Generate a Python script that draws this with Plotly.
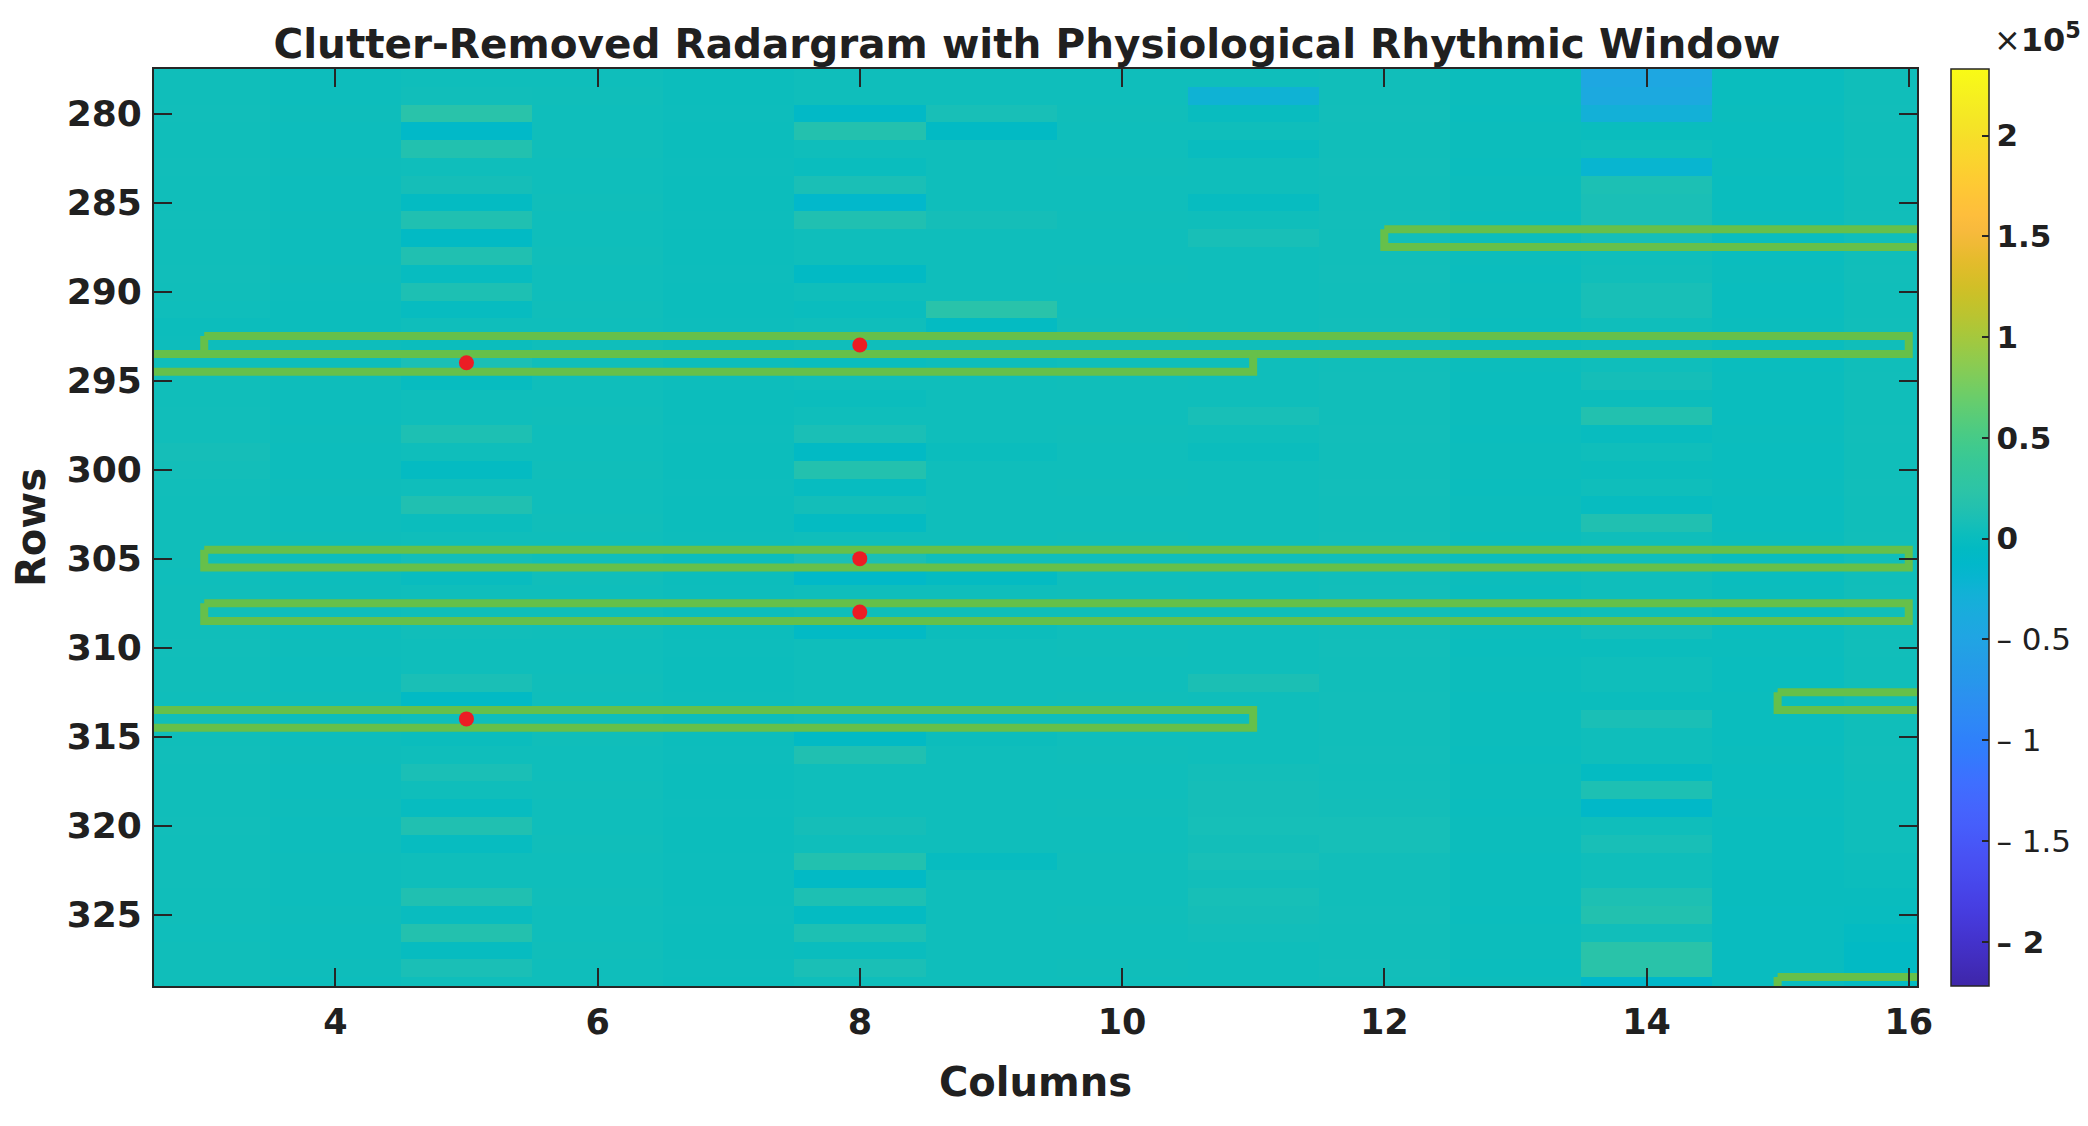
import plotly.graph_objects as go

# ---------------- data ----------------
col_labels = [3, 4, 5, 6, 7, 8, 9, 10, 11, 12, 13, 14, 15, 16]
row_labels = list(range(278, 330))

# clutter-removed amplitude, units of 1e5, rows 278..329 for each column
c03 = [0.045, 0.045, 0.05, 0.045, 0.045, 0.05, 0.045, 0.045, 0.05, 0.045,
       0.045, 0.05, 0.045, 0.04, 0.025, 0.03, 0.04, 0.045, 0.045, 0.05,
       0.05, 0.07, 0.06, 0.05, 0.045, 0.045, 0.045, 0.045, 0.04, 0.045,
       0.045, 0.045, 0.05, 0.045, 0.045, 0.04, 0.045, 0.045, 0.05, 0.045,
       0.045, 0.045, 0.05, 0.045, 0.045, 0.05, 0.045, 0.045, 0.04, 0.045,
       0.045, 0.045]
c04 = [0.03, 0.03, 0.035, 0.03, 0.03, 0.035, 0.03, 0.03, 0.035, 0.03,
       0.03, 0.035, 0.03, 0.025, 0.025, 0.03, 0.03, 0.035, 0.03, 0.03,
       0.035, 0.03, 0.03, 0.035, 0.03, 0.03, 0.035, 0.03, 0.03, 0.035,
       0.03, 0.03, 0.035, 0.03, 0.03, 0.035, 0.03, 0.03, 0.035, 0.03,
       0.03, 0.035, 0.03, 0.03, 0.035, 0.03, 0.03, 0.035, 0.03, 0.03,
       0.035, 0.03]
c05 = [0.04, 0.05, 0.205, -0.1, 0.15, 0.04, 0.07, -0.04, 0.14, -0.06,
       0.14, -0.015, 0.12, -0.015, 0.04, 0.015, 0.095, -0.015, 0.04, 0.04,
       0.12, 0.04, -0.04, 0.04, 0.14, 0.015, 0.04, 0.06, 0.0, 0.04,
       0.04, 0.05, 0.04, 0.04, 0.095, -0.06, 0.04, 0.015, 0.04, 0.095,
       0.04, -0.015, 0.14, -0.015, 0.04, 0.04, 0.14, 0.0, 0.16, -0.015,
       0.095, 0.04]
c06 = [0.04, 0.045, 0.04, 0.04, 0.045, 0.04, 0.04, 0.045, 0.04, 0.04,
       0.045, 0.04, 0.04, 0.045, 0.04, 0.04, 0.045, 0.04, 0.04, 0.045,
       0.04, 0.04, 0.045, 0.04, 0.04, 0.045, 0.04, 0.04, 0.045, 0.04,
       0.04, 0.045, 0.04, 0.04, 0.045, 0.04, 0.04, 0.045, 0.04, 0.04,
       0.045, 0.04, 0.04, 0.045, 0.04, 0.04, 0.045, 0.04, 0.04, 0.045,
       0.04, 0.04]
c07 = [0.025, 0.025, 0.03, 0.025, 0.025, 0.03, 0.025, 0.025, 0.03, 0.025,
       0.025, 0.03, 0.025, 0.025, 0.03, 0.025, 0.025, 0.03, 0.025, 0.025,
       0.03, 0.025, 0.025, 0.03, 0.025, 0.025, 0.03, 0.025, 0.025, 0.03,
       0.025, 0.025, 0.03, 0.025, 0.025, 0.03, 0.025, 0.025, 0.03, 0.025,
       0.025, 0.03, 0.025, 0.025, 0.03, 0.025, 0.025, 0.03, 0.025, 0.025,
       0.03, 0.025]
c08 = [0.04, 0.04, -0.08, 0.16, 0.04, 0.01, 0.095, -0.135, 0.14, 0.04,
       0.04, -0.06, 0.04, 0.01, 0.04, 0.04, 0.01, 0.04, 0.02, 0.04,
       0.095, -0.06, 0.16, -0.015, 0.06, -0.04, 0.04, 0.095, -0.1, 0.04,
       0.04, -0.07, 0.04, 0.04, 0.04, 0.04, 0.04, -0.06, 0.14, 0.04,
       0.04, 0.04, 0.07, 0.04, 0.15, -0.07, 0.12, -0.04, 0.12, 0.01,
       0.095, 0.04]
c09 = [0.04, 0.04, 0.085, -0.06, 0.04, 0.04, 0.04, 0.04, 0.07, 0.04,
       0.04, 0.04, 0.04, 0.205, -0.04, 0.04, 0.03, 0.04, 0.04, 0.04,
       0.04, 0.015, 0.04, 0.04, 0.04, 0.04, 0.04, 0.04, -0.04, 0.04,
       0.04, 0.025, 0.04, 0.04, 0.04, 0.04, 0.04, 0.025, 0.04, 0.04,
       0.04, 0.04, 0.04, 0.04, -0.015, 0.04, 0.04, 0.04, 0.04, 0.04,
       0.04, 0.04]
c10 = [0.04, 0.04, 0.045, 0.04, 0.04, 0.045, 0.04, 0.04, 0.045, 0.04,
       0.04, 0.045, 0.04, 0.04, 0.045, 0.04, 0.04, 0.045, 0.04, 0.04,
       0.045, 0.04, 0.04, 0.045, 0.04, 0.04, 0.045, 0.04, 0.04, 0.045,
       0.04, 0.04, 0.045, 0.04, 0.04, 0.045, 0.04, 0.04, 0.045, 0.04,
       0.04, 0.045, 0.04, 0.04, 0.045, 0.04, 0.04, 0.045, 0.04, 0.04,
       0.045, 0.04]
c11 = [0.04, -0.25, 0.0, 0.04, 0.0, 0.04, 0.04, -0.015, 0.04, 0.085,
       0.04, 0.04, 0.04, 0.04, 0.04, 0.04, 0.04, 0.04, 0.04, 0.085,
       0.04, 0.015, 0.04, 0.04, 0.04, 0.04, 0.04, 0.04, 0.04, 0.04,
       0.04, 0.04, 0.04, 0.04, 0.105, 0.04, 0.04, 0.04, 0.04, 0.06,
       0.07, 0.07, 0.075, 0.06, 0.085, 0.055, 0.08, 0.07, 0.055, 0.04,
       0.04, 0.04]
c12 = [0.05, 0.05, 0.055, 0.05, 0.05, 0.055, 0.05, 0.05, 0.055, 0.05,
       0.05, 0.055, 0.05, 0.05, 0.055, 0.05, 0.05, 0.055, 0.05, 0.05,
       0.055, 0.05, 0.05, 0.055, 0.05, 0.05, 0.055, 0.05, 0.05, 0.055,
       0.05, 0.05, 0.055, 0.05, 0.05, 0.055, 0.05, 0.05, 0.055, 0.05,
       0.055, 0.06, 0.075, 0.075, 0.055, 0.05, 0.05, 0.055, 0.05, 0.05,
       0.055, 0.05]
c13 = [0.025, 0.025, 0.02, 0.025, 0.025, 0.02, 0.025, 0.025, 0.02, 0.025,
       0.025, 0.02, 0.025, 0.025, 0.02, 0.025, 0.025, 0.02, 0.025, 0.025,
       0.02, 0.025, 0.025, 0.02, 0.025, 0.025, 0.02, 0.025, 0.025, 0.02,
       0.025, 0.025, 0.02, 0.025, 0.025, 0.02, 0.025, 0.025, 0.02, 0.025,
       0.025, 0.02, 0.025, 0.025, 0.02, 0.025, 0.025, 0.02, 0.025, 0.025,
       0.02, 0.025]
c14 = [-0.45, -0.42, -0.28, 0.01, 0.04, -0.2, 0.11, 0.095, 0.095, 0.07,
       0.04, 0.05, 0.085, 0.085, 0.04, 0.04, 0.04, 0.07, 0.025, 0.15,
       -0.005, 0.04, 0.015, 0.04, -0.015, 0.14, 0.04, 0.04, 0.04, 0.04,
       0.04, 0.06, 0.015, 0.04, 0.04, 0.02, 0.095, 0.04, 0.04, -0.04,
       0.12, -0.11, 0.04, 0.085, 0.04, 0.05, 0.12, 0.15, 0.05, 0.21,
       0.21, -0.13]
c15 = [0.01, 0.01, 0.015, 0.01, 0.01, 0.015, 0.01, 0.01, 0.015, 0.01,
       0.01, 0.015, 0.01, 0.01, 0.015, 0.01, 0.01, 0.015, 0.01, 0.01,
       0.015, 0.01, 0.01, 0.015, 0.01, 0.01, 0.015, 0.01, 0.01, 0.015,
       0.01, 0.01, 0.015, 0.01, 0.01, 0.015, 0.01, 0.01, 0.015, 0.01,
       0.01, 0.015, 0.01, 0.01, 0.01, 0.005, 0.005, 0.0, 0.0, 0.0,
       0.0, 0.0]
c16 = [0.045, 0.045, 0.05, 0.045, 0.045, 0.05, 0.045, 0.045, 0.05, 0.045,
       0.045, 0.05, 0.045, 0.045, 0.05, 0.045, 0.045, 0.05, 0.045, 0.045,
       0.05, 0.045, 0.045, 0.05, 0.045, 0.045, 0.05, 0.045, 0.045, 0.05,
       0.045, 0.045, 0.05, 0.045, 0.045, 0.05, 0.045, 0.045, 0.05, 0.045,
       0.04, 0.04, 0.04, 0.04, 0.03, 0.02, 0.005, -0.005, -0.04, -0.06,
       -0.06, -0.04]

# detected physiological peaks (column, row)
dot_cols = [5, 8, 8, 8, 5]
dot_rows = [294, 293, 305, 308, 314]

# rhythmic windows: row, first column, last column
win_rows = [287, 293, 294, 305, 308, 313, 314, 329]
win_start = [12, 3, -1, 3, 3, 15, -1, 15]
win_end = [24, 16, 11, 16, 16, 27, 11, 27]

x_ticks = [4, 6, 8, 10, 12, 14, 16]
y_ticks = [280, 285, 290, 295, 300, 305, 310, 315, 320, 325]
cbar_ticks = [-2, -1.5, -1, -0.5, 0, 0.5, 1, 1.5, 2]
cbar_labels = ["<b>\u2013 2</b>", "\u2013 1.5", "\u2013 1", "\u2013 0.5",
               "<b>0</b>", "<b>0.5</b>", "<b>1</b>", "<b>1.5</b>", "<b>2</b>"]
z_min, z_max = -2.22, 2.33

# ---------------- build ----------------
columns = [c03, c04, c05, c06, c07, c08, c09, c10, c11, c12, c13, c14, c15, c16]
z = [[col[i] for col in columns] for i in range(len(row_labels))]

parula_rgb = [
    (0.2422, 0.1504, 0.6603), (0.2504, 0.1650, 0.7076), (0.2578, 0.1818, 0.7511),
    (0.2647, 0.1978, 0.7952), (0.2706, 0.2147, 0.8364), (0.2751, 0.2342, 0.8710),
    (0.2783, 0.2559, 0.8991), (0.2803, 0.2782, 0.9221), (0.2813, 0.3006, 0.9414),
    (0.2810, 0.3228, 0.9579), (0.2795, 0.3447, 0.9717), (0.2760, 0.3667, 0.9829),
    (0.2699, 0.3892, 0.9906), (0.2602, 0.4123, 0.9952), (0.2440, 0.4358, 0.9988),
    (0.2206, 0.4603, 0.9973), (0.1963, 0.4847, 0.9892), (0.1834, 0.5074, 0.9798),
    (0.1786, 0.5289, 0.9682), (0.1764, 0.5499, 0.9520), (0.1687, 0.5703, 0.9359),
    (0.1540, 0.5902, 0.9218), (0.1460, 0.6091, 0.9079), (0.1380, 0.6276, 0.8973),
    (0.1248, 0.6459, 0.8883), (0.1113, 0.6635, 0.8763), (0.0952, 0.6798, 0.8598),
    (0.0689, 0.6948, 0.8394), (0.0297, 0.7082, 0.8163), (0.0036, 0.7203, 0.7917),
    (0.0067, 0.7312, 0.7660), (0.0433, 0.7411, 0.7394), (0.0964, 0.7500, 0.7120),
    (0.1408, 0.7584, 0.6842), (0.1717, 0.7670, 0.6554), (0.1938, 0.7758, 0.6251),
    (0.2161, 0.7843, 0.5923), (0.2470, 0.7918, 0.5567), (0.2906, 0.7973, 0.5188),
    (0.3406, 0.8008, 0.4789), (0.3909, 0.8029, 0.4354), (0.4456, 0.8024, 0.3909),
    (0.5044, 0.7993, 0.3480), (0.5616, 0.7942, 0.3045), (0.6174, 0.7876, 0.2612),
    (0.6720, 0.7793, 0.2227), (0.7242, 0.7698, 0.1910), (0.7738, 0.7598, 0.1646),
    (0.8203, 0.7498, 0.1535), (0.8634, 0.7406, 0.1596), (0.9035, 0.7330, 0.1774),
    (0.9393, 0.7288, 0.2100), (0.9728, 0.7298, 0.2394), (0.9956, 0.7434, 0.2371),
    (0.9970, 0.7659, 0.2199), (0.9952, 0.7893, 0.2028), (0.9892, 0.8136, 0.1885),
    (0.9786, 0.8386, 0.1766), (0.9676, 0.8639, 0.1643), (0.9610, 0.8890, 0.1537),
    (0.9597, 0.9135, 0.1423), (0.9628, 0.9373, 0.1265), (0.9691, 0.9606, 0.1064),
    (0.9769, 0.9839, 0.0805)]
n = len(parula_rgb) - 1
parula = [[k / n, "rgb(%d,%d,%d)" % (round(r * 255), round(g * 255), round(b * 255))]
          for k, (r, g, b) in enumerate(parula_rgb)]

# page geometry (the page body adds an 8 px offset)
OFF = 8
W, H = 2088 - OFF, 1126 - OFF
PX_L, PX_R, PX_T, PX_B = 154, 1917, 69, 986      # plot area on the page
L = PX_L - OFF
T = PX_T - OFF
R = W - (PX_R - OFF)
B = H - (PX_B - OFF)
plot_w = W - L - R
plot_h = H - T - B

def paper_x(px):
    return (px - PX_L) / plot_w

def paper_y(py):
    return 1 + (PX_T - py) / plot_h

FONT = "DejaVu Sans"
INK = "#202020"
AX = "#262626"
GREEN = "#66C04A"

fig = go.Figure()

fig.add_trace(go.Heatmap(
    x=col_labels, y=row_labels, z=z,
    colorscale=parula, zmin=z_min, zmax=z_max, zsmooth=False,
    hoverinfo="skip",
    colorbar=dict(
        x=paper_x(1951), xanchor="left", xref="paper",
        y=0.5, yanchor="middle", len=1, lenmode="fraction",
        thickness=38, thicknessmode="pixels",
        xpad=0, ypad=0,
        outlinewidth=1.5, outlinecolor=AX,
        ticks="inside", ticklen=7, tickwidth=2, tickcolor=AX,
        tickvals=cbar_ticks, ticktext=cbar_labels,
        tickfont=dict(family=FONT, size=31, color=INK),
    ),
))

# rhythmic windows as closed outlines (clipped by the axes)
for r, x0, x1 in zip(win_rows, win_start, win_end):
    fig.add_trace(go.Scatter(
        x=[x0, x1, x1, x0, x0],
        y=[r - 0.5, r - 0.5, r + 0.5, r + 0.5, r - 0.5],
        mode="lines", line=dict(color=GREEN, width=8),
        showlegend=False, hoverinfo="skip",
    ))

fig.add_trace(go.Scatter(
    x=dot_cols, y=dot_rows, mode="markers",
    marker=dict(color="#EC1C24", size=15, line=dict(width=0)),
    showlegend=False, hoverinfo="skip",
))

fig.update_layout(
    width=W, height=H,
    margin=dict(l=L, r=R, t=T, b=B, pad=0, autoexpand=False),
    paper_bgcolor="white", plot_bgcolor="white",
    showlegend=False,
    title=dict(
        text="Clutter-Removed Radargram with Physiological Rhythmic Window",
        x=paper_x(1027), xref="paper", xanchor="center",
        y=1 - 36 / H, yref="container", yanchor="middle",
        font=dict(family=FONT, size=40.5, color=INK, weight="bold"),
    ),
    xaxis=dict(
        range=[2.617, 16.063], tickvals=x_ticks, automargin=False,
        ticks="inside", ticklen=18, tickwidth=2, tickcolor=AX,
        showline=True, linecolor=AX, linewidth=2, mirror="ticks",
        showgrid=False, zeroline=False, ticklabelstandoff=4,
        tickfont=dict(family=FONT, size=35, color=INK, weight="bold"),
        title=dict(text="Columns", standoff=27,
                   font=dict(family=FONT, size=40, color=INK, weight="bold")),
    ),
    yaxis=dict(
        range=[329.0, 277.5], tickvals=y_ticks, automargin=False,
        ticks="inside", ticklen=18, tickwidth=2, tickcolor=AX,
        showline=True, linecolor=AX, linewidth=2, mirror="ticks",
        showgrid=False, zeroline=False, ticklabelstandoff=3,
        tickfont=dict(family=FONT, size=36, color=INK, weight="bold"),
        title=dict(text="Rows", standoff=14,
                   font=dict(family=FONT, size=40, color=INK, weight="bold")),
    ),
    annotations=[dict(
        text="\u00d7<b>10</b><sup><b>5</b></sup>",
        xref="paper", yref="paper",
        x=paper_x(1992), xanchor="left",
        y=paper_y(38), yanchor="middle",
        showarrow=False,
        font=dict(family=FONT, size=32, color=INK),
    )],
)

fig.write_html("out.html")
